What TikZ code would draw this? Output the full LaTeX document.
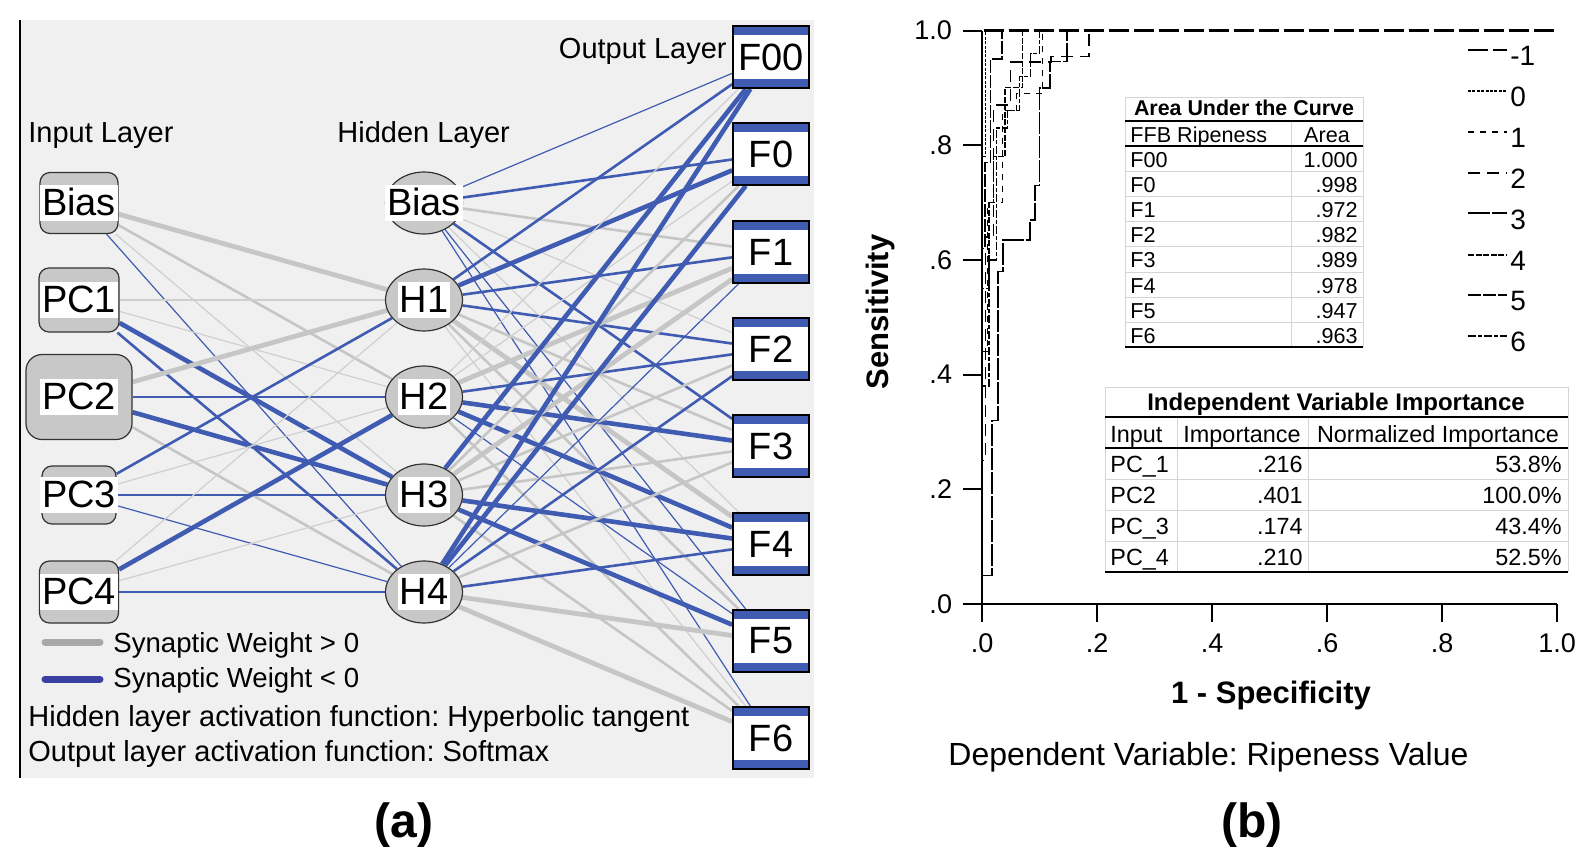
\documentclass[tikz,border=0pt]{standalone}
\usepackage{fontspec}
\setmainfont{Liberation Sans}
\usepackage{tikz}
\usetikzlibrary{shapes.geometric}
\frenchspacing

\definecolor{panelbg}{RGB}{240,240,240}
\definecolor{nodegray}{RGB}{200,200,200}
\definecolor{wgray}{RGB}{198,198,198}
\definecolor{netblue}{RGB}{64,92,178}
\definecolor{legendgray}{RGB}{168,168,168}
\definecolor{legendblue}{RGB}{58,64,160}
\definecolor{rulegray}{RGB}{212,212,212}

\pgfdeclarelayer{back}
\pgfsetlayers{back,main}

\tikzset{
    layerlabel/.style={inner sep=0pt, font=\fontsize{14.5}{17}\selectfont},
    legendtext/.style={inner sep=0pt, font=\fontsize{13.8}{16}\selectfont},
    paneltag/.style={inner sep=0pt, font=\bfseries\fontsize{24}{28}\selectfont},
    nodetext/.style={fill=white, draw=none, sharp corners, minimum size=0pt, inner sep=1pt, text height=14pt, text depth=2pt, font=\fontsize{19}{22}\selectfont},
    inputnode/.style={draw=black!80, line width=0.6pt, fill=nodegray, rounded corners=5pt, inner sep=0pt, label={[nodetext]center:#1}},
    hiddennode/.style={ellipse, draw=black!80, line width=0.6pt, fill=nodegray, minimum width=38.5pt, minimum height=31pt, inner sep=0pt, label={[nodetext]center:#1}},
    outputnode/.style={draw=black, line width=0.9pt, fill=white, minimum width=38pt, minimum height=31pt, inner sep=0pt, font=\fontsize{19}{22}\selectfont,
        path picture={
            \fill[netblue] (path picture bounding box.north west) rectangle ([yshift=-4.5pt]path picture bounding box.north east);
            \fill[netblue] ([yshift=4.5pt]path picture bounding box.south west) rectangle (path picture bounding box.south east);
        }},
    gthin/.style={draw=wgray!85, line width=0.6pt},
    gmed/.style={draw=wgray, line width=1.3pt},
    gthick/.style={draw=wgray, line width=2.4pt},
    bthin/.style={draw=netblue, line width=0.6pt},
    bmed/.style={draw=netblue, line width=1.3pt},
    bthick/.style={draw=netblue, line width=2.3pt},
    axisline/.style={line width=1pt},
    ticklabel/.style={inner sep=0pt, font=\fontsize{13.5}{16}\selectfont},
    axistitle/.style={inner sep=0pt, font=\bfseries\fontsize{15.5}{18}\selectfont},
    captiontext/.style={inner sep=0pt, font=\fontsize{16}{19}\selectfont},
    rocF00/.style={line width=1.1pt, dash pattern=on 10pt off 2.5pt},
    rocF0/.style={line width=0.6pt, dash pattern=on 1.5pt off 0.7pt},
    rocF1/.style={line width=0.6pt, dash pattern=on 3pt off 3pt},
    rocF2/.style={line width=0.7pt, dash pattern=on 6pt off 3.5pt},
    rocF3/.style={line width=0.8pt, dash pattern=on 11pt off 1pt},
    rocF4/.style={line width=0.6pt, dash pattern=on 3pt off 0.8pt},
    rocF5/.style={line width=0.8pt, dash pattern=on 6.5pt off 1pt},
    rocF6/.style={line width=0.6pt, dash pattern=on 4pt off 1pt on 2pt off 1pt},
    tabletext/.style={inner sep=0pt, font=\fontsize{10.8}{13}\selectfont},
    tabletitle/.style={inner sep=0pt, font=\bfseries\fontsize{10.7}{13}\selectfont},
    imptext/.style={inner sep=0pt, font=\fontsize{11.7}{14}\selectfont},
    imptitle/.style={inner sep=0pt, font=\bfseries\fontsize{12}{14}\selectfont},
    softrule/.style={draw=rulegray, line width=0.5pt},
    hardrule/.style={draw=black, line width=0.9pt},
}

\begin{document}
\begin{tikzpicture}[x=0.5pt, y=-0.5pt]
    \useasboundingbox (0,0) rectangle (1589,867);

    % panel (a): network
    \begin{pgfonlayer}{back}
        \fill[panelbg] (20,20) rectangle (814,778);
        \draw[line width=1pt] (20,20) -- (20,778);
    \end{pgfonlayer}

    \node[layerlabel, anchor=base west] (inlabel) at (28,142) {Input Layer};
    \node[layerlabel, anchor=base west] (hidlabel) at (337,142) {Hidden Layer};
    \node[layerlabel, anchor=base east] (outlabel) at (727,58) {Output Layer};

    \node[inputnode=Bias, minimum width=39pt, minimum height=30.5pt] (iB) at (79,203) {};
    \node[inputnode=PC1, minimum width=40pt, minimum height=32pt] (i1) at (79,300) {};
    \node[inputnode=PC2, minimum width=53pt, minimum height=42.5pt, rounded corners=8pt] (i2) at (79,397) {};
    \node[inputnode=PC3, minimum width=37pt, minimum height=29pt] (i3) at (79,495) {};
    \node[inputnode=PC4, minimum width=39.5pt, minimum height=31pt] (i4) at (79,592) {};

    \node[hiddennode=Bias] (hB) at (424,203) {};
    \node[hiddennode=H1] (h1) at (424,300) {};
    \node[hiddennode=H2] (h2) at (424,397) {};
    \node[hiddennode=H3] (h3) at (424,495) {};
    \node[hiddennode=H4] (h4) at (424,592) {};

    \node[outputnode] (o00) at (771,57) {F00};
    \node[outputnode] (o0) at (771,154) {F0};
    \node[outputnode] (o1) at (771,252) {F1};
    \node[outputnode] (o2) at (771,349) {F2};
    \node[outputnode] (o3) at (771,446) {F3};
    \node[outputnode] (o4) at (771,544) {F4};
    \node[outputnode] (o5) at (771,641) {F5};
    \node[outputnode] (o6) at (771,738) {F6};

    \begin{pgfonlayer}{back}
        % input to hidden
        \draw[gthick] (iB) -- (h1);
        \draw[gmed] (iB) -- (h2);
        \draw[gthin] (iB) -- (h3);
        \draw[bthin] (iB) -- (h4);
        \draw[gthin] (i1) -- (h1);
        \draw[gthin] (i1) -- (h2);
        \draw[bthick] (i1) -- (h3);
        \draw[bmed] (i1) -- (h4);
        \draw[gthick] (i2) -- (h1);
        \draw[bmed] (i2) -- (h2);
        \draw[bthick] (i2) -- (h3);
        \draw[gmed] (i2) -- (h4);
        \draw[bmed] (i3) -- (h1);
        \draw[gthin] (i3) -- (h2);
        \draw[bthin] (i3) -- (h3);
        \draw[bthin] (i3) -- (h4);
        \draw[gthin] (i4) -- (h1);
        \draw[bthick] (i4) -- (h2);
        \draw[gthin] (i4) -- (h3);
        \draw[bthin] (i4) -- (h4);

        % hidden to output
        \draw[bthin] (hB) -- (o00);
        \draw[bmed] (hB) -- (o0);
        \draw[gmed] (hB) -- (o1);
        \draw[gthin] (hB) -- (o2);
        \draw[bmed] (hB) -- (o3);
        \draw[gthin] (hB) -- (o4);
        \draw[bthin] (hB) -- (o5);
        \draw[bthin] (hB) -- (o6);
        \draw[bmed] (h1) -- (o00);
        \draw[bthick] (h1) -- (o0);
        \draw[bmed] (h1) -- (o1);
        \draw[bmed] (h1) -- (o2);
        \draw[gmed] (h1) -- (o3);
        \draw[gthick] (h1) -- (o4);
        \draw[gmed] (h1) -- (o5);
        \draw[gthin] (h1) -- (o6);
        \draw[gthin] (h2) -- (o00);
        \draw[gthin] (h2) -- (o0);
        \draw[gthick] (h2) -- (o1);
        \draw[bmed] (h2) -- (o2);
        \draw[bthick] (h2) -- (o3);
        \draw[bthick] (h2) -- (o4);
        \draw[bthin] (h2) -- (o5);
        \draw[gmed] (h2) -- (o6);
        \draw[bthick] (h3) -- (o00);
        \draw[gmed] (h3) -- (o0);
        \draw[gthick] (h3) -- (o1);
        \draw[gmed] (h3) -- (o2);
        \draw[gmed] (h3) -- (o3);
        \draw[bthick] (h3) -- (o4);
        \draw[bthick] (h3) -- (o5);
        \draw[gmed] (h3) -- (o6);
        \draw[bthick] (h4) -- (o00);
        \draw[bthick] (h4) -- (o0);
        \draw[bthin] (h4) -- (o1);
        \draw[bmed] (h4) -- (o2);
        \draw[gmed] (h4) -- (o3);
        \draw[bmed] (h4) -- (o4);
        \draw[gthick] (h4) -- (o5);
        \draw[gthick] (h4) -- (o6);
    \end{pgfonlayer}

    \draw[line width=3.5pt, legendgray, line cap=round] (45,642) -- (100,642);
    \draw[line width=3.5pt, legendblue, line cap=round] (45,679) -- (100,679);
    \node[legendtext, anchor=base west] (wpos) at (113,652) {Synaptic Weight > 0};
    \node[legendtext, anchor=base west] (wneg) at (113,687) {Synaptic Weight < 0};
    \node[layerlabel, anchor=base west] (hidact) at (28,726) {Hidden layer activation function: Hyperbolic tangent};
    \node[layerlabel, anchor=base west] (outact) at (28,761) {Output layer activation function: Softmax};
    \node[paneltag, anchor=base] (taga) at (404,837) {(a)};

    % panel (b): ROC curves
    \begin{scope}[shift={(982,604)}, x=287.5pt, y=286.75pt]
        \draw[axisline] (0,0) -- (0,1);
        \draw[axisline] (0,0) -- (1,0);

        \draw[axisline] (0,0) -- ++(-9.5pt,0) node[ticklabel, anchor=east, xshift=-5pt] (ylab0) {.0};
        \draw[axisline] (0,0.2) -- ++(-9.5pt,0) node[ticklabel, anchor=east, xshift=-5pt] (ylab2) {.2};
        \draw[axisline] (0,0.4) -- ++(-9.5pt,0) node[ticklabel, anchor=east, xshift=-5pt] (ylab4) {.4};
        \draw[axisline] (0,0.6) -- ++(-9.5pt,0) node[ticklabel, anchor=east, xshift=-5pt] (ylab6) {.6};
        \draw[axisline] (0,0.8) -- ++(-9.5pt,0) node[ticklabel, anchor=east, xshift=-5pt] (ylab8) {.8};
        \draw[axisline] (0,1) -- ++(-9.5pt,0) node[ticklabel, anchor=east, xshift=-5pt] (ylab10) {1.0};

        \draw[axisline] (0,0) -- ++(0,-9pt) node[ticklabel, anchor=north, yshift=-5.5pt] (xlab0) {.0};
        \draw[axisline] (0.2,0) -- ++(0,-9pt) node[ticklabel, anchor=north, yshift=-5.5pt] (xlab2) {.2};
        \draw[axisline] (0.4,0) -- ++(0,-9pt) node[ticklabel, anchor=north, yshift=-5.5pt] (xlab4) {.4};
        \draw[axisline] (0.6,0) -- ++(0,-9pt) node[ticklabel, anchor=north, yshift=-5.5pt] (xlab6) {.6};
        \draw[axisline] (0.8,0) -- ++(0,-9pt) node[ticklabel, anchor=north, yshift=-5.5pt] (xlab8) {.8};
        \draw[axisline] (1,0) -- ++(0,-9pt) node[ticklabel, anchor=north, yshift=-5.5pt] (xlab10) {1.0};

        \draw[rocF0] (0,0) -- (0,0.78) -- (0.006,0.78) -- (0.006,1) -- (0.03,1);
        \draw[rocF1] (0,0) -- (0,0.44) -- (0.01,0.44) -- (0.01,0.7) -- (0.035,0.7) -- (0.035,0.86) -- (0.06,0.86) -- (0.06,0.89) -- (0.105,0.89) -- (0.105,1);
        \draw[rocF2] (0,0) -- (0,0.25) -- (0.006,0.25) -- (0.006,0.64) -- (0.02,0.64) -- (0.02,0.87) -- (0.05,0.87) -- (0.05,0.945) -- (0.12,0.945) -- (0.12,0.955) -- (0.186,0.955) -- (0.186,1);
        \draw[rocF3] (0,0) -- (0,0.05) -- (0.017,0.05) -- (0.017,0.32) -- (0.028,0.32) -- (0.028,0.58) -- (0.037,0.58) -- (0.037,0.635) -- (0.083,0.635) -- (0.083,0.67) -- (0.092,0.67) -- (0.092,0.73) -- (0.1,0.73) -- (0.1,0.9) -- (0.118,0.9) -- (0.118,0.946) -- (0.148,0.946) -- (0.148,1);
        \draw[rocF4] (0,0) -- (0,0.55) -- (0.012,0.55) -- (0.012,0.7) -- (0.02,0.7) -- (0.02,0.78) -- (0.04,0.78) -- (0.04,0.9) -- (0.07,0.9) -- (0.07,1);
        \draw[rocF5] (0,0) -- (0,0.62) -- (0.005,0.62) -- (0.005,0.77) -- (0.015,0.77) -- (0.015,0.95) -- (0.035,0.95) -- (0.035,1);
        \draw[rocF6] (0,0) -- (0,0.38) -- (0.012,0.38) -- (0.012,0.6) -- (0.025,0.6) -- (0.025,0.83) -- (0.045,0.83) -- (0.045,0.86) -- (0.065,0.86) -- (0.065,0.92) -- (0.085,0.92) -- (0.085,0.96) -- (0.1,0.96) -- (0.1,1);
        \draw[rocF00] (0,0) -- (0,1) -- (1,1);
    \end{scope}

    \node[axistitle, rotate=90] (senslabel) at (880,312) {Sensitivity};
    \node[axistitle, anchor=base] (speclabel) at (1271,703) {1 - Specificity};
    \node[captiontext, anchor=base west] (depvar) at (948,765) {Dependent Variable: Ripeness Value};
    \node[paneltag, anchor=base] (tagb) at (1252,837) {(b)};

    % curve legend
    \draw[rocF00] (1468,50) -- (1507,50);
    \draw[rocF0] (1468,91) -- (1507,91);
    \draw[rocF1] (1468,132) -- (1507,132);
    \draw[rocF2] (1468,173) -- (1507,173);
    \draw[rocF3] (1468,213) -- (1507,213);
    \draw[rocF4] (1468,255) -- (1507,255);
    \draw[rocF5] (1468,295) -- (1507,295);
    \draw[rocF6] (1468,336) -- (1507,336);
    \node[legendtext, anchor=base west, font=\fontsize{14}{16}\selectfont] (legm1) at (1510,65) {-1};
    \node[legendtext, anchor=base west, font=\fontsize{14}{16}\selectfont] (leg0) at (1510,106) {0};
    \node[legendtext, anchor=base west, font=\fontsize{14}{16}\selectfont] (leg1) at (1510,147) {1};
    \node[legendtext, anchor=base west, font=\fontsize{14}{16}\selectfont] (leg2) at (1510,188) {2};
    \node[legendtext, anchor=base west, font=\fontsize{14}{16}\selectfont] (leg3) at (1510,229) {3};
    \node[legendtext, anchor=base west, font=\fontsize{14}{16}\selectfont] (leg4) at (1510,270) {4};
    \node[legendtext, anchor=base west, font=\fontsize{14}{16}\selectfont] (leg5) at (1510,310) {5};
    \node[legendtext, anchor=base west, font=\fontsize{14}{16}\selectfont] (leg6) at (1510,351) {6};

    % area under the curve table
    \draw[softrule] (1125,97) -- (1363,97);
    \draw[softrule] (1125,97) -- (1125,347);
    \draw[softrule] (1363,97) -- (1363,347);
    \draw[softrule] (1291,121) -- (1291,347);
    \draw[hardrule] (1125,121) -- (1363,121);
    \draw[hardrule] (1125,146) -- (1363,146);
    \draw[softrule] (1125,171) -- (1363,171);
    \draw[softrule] (1125,196) -- (1363,196);
    \draw[softrule] (1125,221) -- (1363,221);
    \draw[softrule] (1125,246) -- (1363,246);
    \draw[softrule] (1125,272) -- (1363,272);
    \draw[softrule] (1125,297) -- (1363,297);
    \draw[softrule] (1125,322) -- (1363,322);
    \draw[hardrule] (1125,347) -- (1363,347);

    \node[tabletitle, anchor=base] (auctitle) at (1244,115) {Area Under the Curve};
    \node[tabletext, anchor=base west] (auchead) at (1130,142) {FFB Ripeness};
    \node[tabletext, anchor=base] (areahead) at (1327,142) {Area};
    \node[tabletext, anchor=base west] (rF00) at (1130,167) {F00};
    \node[tabletext, anchor=base west] (rF0) at (1130,192) {F0};
    \node[tabletext, anchor=base west] (rF1) at (1130,217) {F1};
    \node[tabletext, anchor=base west] (rF2) at (1130,242) {F2};
    \node[tabletext, anchor=base west] (rF3) at (1130,267) {F3};
    \node[tabletext, anchor=base west] (rF4) at (1130,293) {F4};
    \node[tabletext, anchor=base west] (rF5) at (1130,318) {F5};
    \node[tabletext, anchor=base west] (rF6) at (1130,343) {F6};
    \node[tabletext, anchor=base east] (aF00) at (1358,167) {1.000};
    \node[tabletext, anchor=base east] (aF0) at (1358,192) {.998};
    \node[tabletext, anchor=base east] (aF1) at (1358,217) {.972};
    \node[tabletext, anchor=base east] (aF2) at (1358,242) {.982};
    \node[tabletext, anchor=base east] (aF3) at (1358,267) {.989};
    \node[tabletext, anchor=base east] (aF4) at (1358,293) {.978};
    \node[tabletext, anchor=base east] (aF5) at (1358,318) {.947};
    \node[tabletext, anchor=base east] (aF6) at (1358,343) {.963};

    % variable importance table
    \draw[softrule] (1105,387) -- (1568,387);
    \draw[softrule] (1105,387) -- (1105,572);
    \draw[softrule] (1568,387) -- (1568,572);
    \draw[softrule] (1177,417) -- (1177,572);
    \draw[softrule] (1308,417) -- (1308,572);
    \draw[hardrule] (1105,417) -- (1568,417);
    \draw[hardrule] (1105,448) -- (1568,448);
    \draw[softrule] (1105,479) -- (1568,479);
    \draw[softrule] (1105,510) -- (1568,510);
    \draw[softrule] (1105,541) -- (1568,541);
    \draw[hardrule] (1105,572) -- (1568,572);

    \node[imptitle, anchor=base] (imptitlenode) at (1336,410) {Independent Variable Importance};
    \node[imptext, anchor=base west] (inhead) at (1110,442) {Input};
    \node[imptext, anchor=base] (imphead) at (1242,442) {Importance};
    \node[imptext, anchor=base] (normhead) at (1438,442) {Normalized Importance};
    \node[imptext, anchor=base west] (pc1) at (1110,472) {PC\_1};
    \node[imptext, anchor=base west] (pc2) at (1110,503) {PC2};
    \node[imptext, anchor=base west] (pc3) at (1110,534) {PC\_3};
    \node[imptext, anchor=base west] (pc4) at (1110,565) {PC\_4};
    \node[imptext, anchor=base east] (imp1) at (1303,472) {.216};
    \node[imptext, anchor=base east] (imp2) at (1303,503) {.401};
    \node[imptext, anchor=base east] (imp3) at (1303,534) {.174};
    \node[imptext, anchor=base east] (imp4) at (1303,565) {.210};
    \node[imptext, anchor=base east] (norm1) at (1562,472) {53.8\%};
    \node[imptext, anchor=base east] (norm2) at (1562,503) {100.0\%};
    \node[imptext, anchor=base east] (norm3) at (1562,534) {43.4\%};
    \node[imptext, anchor=base east] (norm4) at (1562,565) {52.5\%};
\end{tikzpicture}
\end{document}
